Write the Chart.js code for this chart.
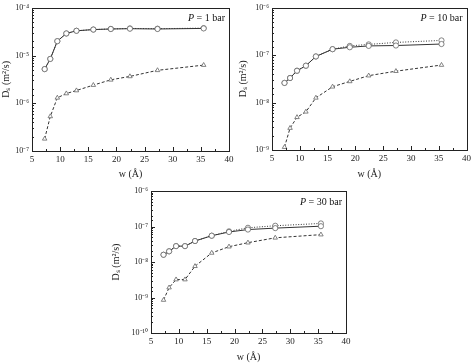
<!DOCTYPE html>
<html><head><meta charset="utf-8">
<script src="https://cdn.jsdelivr.net/npm/chart.js@4.4.1/dist/chart.umd.min.js"></script>
<style>
html,body{margin:0;padding:0;background:#fff;width:474px;height:363px;overflow:hidden;position:relative}
.box{position:absolute}
</style></head><body>
<div class="box" style="left:0;top:0;width:237px;height:180px"><canvas id="c1"></canvas></div>
<div class="box" style="left:237px;top:0;width:237px;height:180px"><canvas id="c2"></canvas></div>
<div class="box" style="left:110px;top:180px;width:250px;height:183px"><canvas id="c3"></canvas></div>
<script>
// ---- data ----
const widths = [7.25, 8.25, 9.5, 11.1, 12.9, 15.9, 19.0, 22.4, 27.3, 35.5];
const xTicks = [5, 10, 15, 20, 25, 30, 35, 40];

const p1Solid  = [5.2e-6, 8.5e-6, 2.0e-5, 2.9e-5, 3.3e-5, 3.5e-5, 3.6e-5, 3.65e-5, 3.6e-5, 3.7e-5];
const p1Dotted = [5.2e-6, 8.5e-6, 2.0e-5, 2.9e-5, 3.3e-5, 3.5e-5, 3.6e-5, 3.7e-5, 3.65e-5, 3.75e-5];
const p1Tri    = [1.8e-7, 5.3e-7, 1.3e-6, 1.6e-6, 1.85e-6, 2.4e-6, 3.1e-6, 3.65e-6, 4.9e-6, 6.3e-6];

const p2Solid  = [2.6e-8, 3.3e-8, 4.7e-8, 6.0e-8, 9.4e-8, 1.34e-7, 1.47e-7, 1.57e-7, 1.6e-7, 1.72e-7];
const p2Dotted = [2.6e-8, 3.3e-8, 4.7e-8, 6.0e-8, 9.4e-8, 1.34e-7, 1.57e-7, 1.69e-7, 1.86e-7, 2.05e-7];
const p2Tri    = [1.15e-9, 2.9e-9, 4.9e-9, 6.4e-9, 1.26e-8, 2.16e-8, 2.8e-8, 3.7e-8, 4.6e-8, 6.2e-8];

const p3Solid  = [1.6e-8, 2.0e-8, 2.8e-8, 2.8e-8, 3.9e-8, 5.5e-8, 7.0e-8, 8.2e-8, 9.0e-8, 1.02e-7];
const p3Dotted = [1.6e-8, 2.0e-8, 2.8e-8, 2.8e-8, 3.9e-8, 5.5e-8, 7.3e-8, 9.2e-8, 1.05e-7, 1.22e-7];
const p3Tri    = [8.5e-10, 1.9e-9, 3.2e-9, 3.2e-9, 7.6e-9, 1.8e-8, 2.7e-8, 3.5e-8, 4.8e-8, 5.9e-8];

const panels = [
  {id:'c1', label:'1 bar',  yMin:1e-7,  yMax:1e-4, solid:p1Solid, dotted:p1Dotted, tri:p1Tri,
   yW:32, xH:29, pad:{top:5,right:8,left:0,bottom:0}},
  {id:'c2', label:'10 bar', yMin:1e-9,  yMax:1e-6, solid:p2Solid, dotted:p2Dotted, tri:p2Tri,
   yW:35, xH:30, pad:{top:5,right:4,left:0,bottom:0}},
  {id:'c3', label:'30 bar', yMin:1e-10, yMax:1e-6, solid:p3Solid, dotted:p3Dotted, tri:p3Tri,
   yW:41, xH:30, pad:{top:11,right:14,left:0,bottom:0}}
];

const SUP = {'-':'\u207B','0':'\u2070','1':'\u00B9','2':'\u00B2','3':'\u00B3','4':'\u2074','5':'\u2075','6':'\u2076','7':'\u2077','8':'\u2078','9':'\u2079'};
function sup(n){return String(n).split('').map(c=>SUP[c]).join('');}
const FONT = '"Liberation Serif","Times New Roman",serif';
const LINE = '#333';
const MARK = '#666';

const framePlugin = {
  id:'frame',
  afterDraw(chart, args, opts){
    const {ctx, chartArea:a} = chart;
    ctx.save();
    ctx.strokeStyle = '#222'; ctx.lineWidth = 1;
    ctx.strokeRect(Math.round(a.left)+0.5, Math.round(a.top)+0.5, Math.round(a.right-a.left), Math.round(a.bottom-a.top));
    const ys = chart.scales.y, xs = chart.scales.x;
    ys.ticks.forEach(t=>{
      const v = t.value; const lg = Math.log10(v);
      const major = Math.abs(lg-Math.round(lg))<1e-9;
      const py = Math.round(ys.getPixelForValue(v))+0.5;
      const L = major?4:2;
      ctx.beginPath(); ctx.moveTo(a.left, py); ctx.lineTo(a.left+L, py); ctx.stroke();
    });
    for (let v=5; v<=40; v+=2.5){
      const major = (v%5===0);
      const px = Math.round(xs.getPixelForValue(v))+0.5;
      const L = major?4:2;
      ctx.beginPath(); ctx.moveTo(px, a.bottom); ctx.lineTo(px, a.bottom-L); ctx.stroke();
    }
    ctx.fillStyle = '#111';
    ctx.textBaseline = 'top'; ctx.textAlign = 'left';
    const rest = ' = ' + opts.label;
    ctx.font = '10px ' + FONT;
    const wRest = ctx.measureText(rest).width;
    ctx.font = 'italic 10px ' + FONT;
    const wP = ctx.measureText('P').width;
    const x0 = a.right - 4 - wRest - wP;
    const y0 = a.top + 6;
    ctx.fillText('P', x0, y0);
    ctx.font = '10px ' + FONT;
    ctx.fillText(rest, x0 + wP, y0);
    ctx.restore();
  }
};

panels.forEach(p=>{
  const ds = (data, dash, style, r, order)=>({
    data: widths.map((w,i)=>({x:w, y:data[i]})),
    borderColor: LINE, borderWidth: 1, borderDash: dash,
    pointStyle: style, pointRadius: r, pointBorderWidth: 0.8,
    pointBorderColor: MARK, pointBackgroundColor: '#fff',
    fill:false, tension:0, order: order
  });
  new Chart(document.getElementById(p.id), {
    type:'line',
    data:{datasets:[
      ds(p.dotted, [1,1.6], 'circle', 2.6, 3),
      ds(p.solid, [], 'circle', 2.6, 1),
      ds(p.tri, [3,2], 'triangle', 2.6, 2)
    ]},
    options:{
      responsive:true, maintainAspectRatio:false, animation:false,
      layout:{padding:p.pad},
      plugins:{legend:{display:false}, tooltip:{enabled:false}, frame:{label:p.label}},
      scales:{
        x:{type:'linear', min:5, max:40,
           afterFit(s){s.height=p.xH;},
           afterBuildTicks(s){s.ticks = xTicks.map(v=>({value:v}));},
           border:{display:false},
           grid:{display:true, drawOnChartArea:false, drawTicks:false},
           ticks:{padding:3, font:{family:FONT,size:9}, color:'#222', maxRotation:0, autoSkip:false},
           title:{display:true, text:'w (Å)', font:{family:FONT,size:10}, color:'#222', padding:{top:1,bottom:0}}
        },
        y:{type:'logarithmic', min:p.yMin, max:p.yMax,
           afterFit(s){s.width=p.yW;},
           border:{display:false},
           grid:{display:true, drawOnChartArea:false, drawTicks:false},
           ticks:{padding:3, autoSkip:false, font:{family:FONT,size:8}, color:'#222',
             callback(v){const lg=Math.log10(v); return Math.abs(lg-Math.round(lg))<1e-9 ? '10'+sup(Math.round(lg)) : '';}},
           title:{display:true, text:'Dₛ (m²/s)', font:{family:FONT,size:10}, color:'#222', padding:{top:0,bottom:1}}
        }
      }
    },
    plugins:[framePlugin]
  });
});
</script>
</body></html>
